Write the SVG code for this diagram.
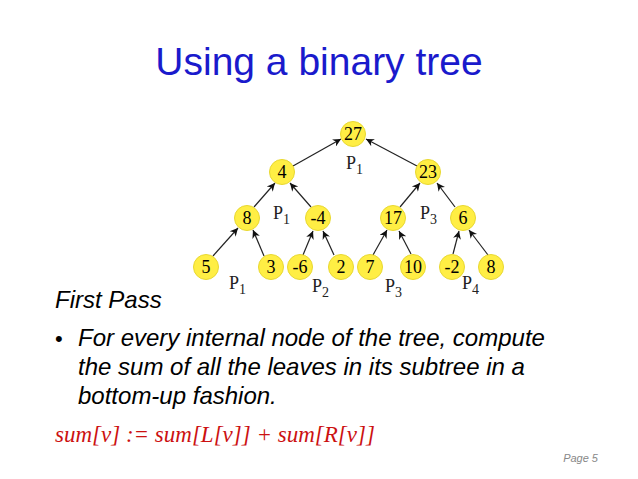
<svg xmlns="http://www.w3.org/2000/svg" width="638" height="479" viewBox="0 0 638 479">
<style>
.n circle{fill:#ffee44;stroke:#e8d830;stroke-width:1}
.n text{font-family:"Liberation Serif",serif;font-size:18px;text-anchor:middle;fill:#000}
.p{font-family:"Liberation Serif",serif;font-size:18px;fill:#222}
.p tspan{font-size:14px}
.e line{stroke:#222;stroke-width:1.2;marker-end:url(#a)}
.b{font-family:"Liberation Sans",sans-serif;font-style:italic;font-size:24px;fill:#000}
</style>
<defs><marker id="a" viewBox="0 0 10 10" refX="10" refY="5" markerWidth="12" markerHeight="8" orient="auto" markerUnits="userSpaceOnUse"><path d="M0,0L10,5L0,10L3,5z" fill="#111"/></marker></defs>
<rect width="638" height="479" fill="#fff"/>
<text x="319" y="75" font-family="Liberation Sans,sans-serif" font-size="39" fill="#1a1acc" text-anchor="middle">Using a binary tree</text>
<g class="e">
<line x1="293" y1="166" x2="341" y2="139"/>
<line x1="417" y1="166" x2="366" y2="139"/>
<line x1="254" y1="207" x2="275" y2="183"/>
<line x1="311" y1="207" x2="290" y2="183"/>
<line x1="400" y1="207" x2="420" y2="183"/>
<line x1="455" y1="207" x2="437" y2="183"/>
<line x1="213" y1="256" x2="238" y2="228"/>
<line x1="264" y1="256" x2="253" y2="230"/>
<line x1="303" y1="255" x2="313" y2="231"/>
<line x1="334" y1="255" x2="323" y2="231"/>
<line x1="373" y1="255" x2="387" y2="230"/>
<line x1="411" y1="254" x2="399" y2="231"/>
<line x1="453" y1="254" x2="459" y2="231"/>
<line x1="488" y1="255" x2="469" y2="230"/>
</g>
<g id="n27" class="n"><circle cx="353" cy="134" r="12.5"/><text x="353" y="140">27</text></g>
<g id="n4" class="n"><circle cx="282" cy="172" r="12.5"/><text x="282" y="178">4</text></g>
<g id="n23" class="n"><circle cx="428" cy="172" r="12.5"/><text x="428" y="178">23</text></g>
<g id="n8a" class="n"><circle cx="247" cy="218" r="12.5"/><text x="247" y="224">8</text></g>
<g id="nm4" class="n"><circle cx="318" cy="218" r="12.5"/><text x="318" y="224">-4</text></g>
<g id="n17" class="n"><circle cx="393" cy="218" r="12.5"/><text x="393" y="224">17</text></g>
<g id="n6" class="n"><circle cx="463" cy="218" r="12.5"/><text x="463" y="224">6</text></g>
<g id="n5" class="n"><circle cx="206" cy="267" r="12.5"/><text x="206" y="273">5</text></g>
<g id="n3" class="n"><circle cx="271" cy="267" r="12.5"/><text x="271" y="273">3</text></g>
<g id="nm6" class="n"><circle cx="300" cy="267" r="12.5"/><text x="300" y="273">-6</text></g>
<g id="n2" class="n"><circle cx="341" cy="267" r="12.5"/><text x="341" y="273">2</text></g>
<g id="n7" class="n"><circle cx="370" cy="267" r="12.5"/><text x="370" y="273">7</text></g>
<g id="n10" class="n"><circle cx="413" cy="267" r="12.5"/><text x="413" y="273">10</text></g>
<g id="nm2" class="n"><circle cx="452" cy="267" r="12.5"/><text x="452" y="273">-2</text></g>
<g id="n8b" class="n"><circle cx="491" cy="267" r="12.5"/><text x="491" y="273">8</text></g>
<text class="p" x="346" y="169">P<tspan dy="5">1</tspan></text>
<text class="p" x="273" y="219">P<tspan dy="5">1</tspan></text>
<text class="p" x="420" y="219">P<tspan dy="5">3</tspan></text>
<text class="p" x="229" y="289">P<tspan dy="5">1</tspan></text>
<text class="p" x="312" y="292">P<tspan dy="5">2</tspan></text>
<text class="p" x="385" y="292">P<tspan dy="5">3</tspan></text>
<text class="p" x="462" y="289">P<tspan dy="5">4</tspan></text>
<text class="b" x="55" y="308">First Pass</text>
<text font-family="Liberation Sans,sans-serif" font-size="22" x="55" y="346">•</text>
<text class="b" x="78" y="346">For every internal node of the tree, compute</text>
<text class="b" x="78" y="375">the sum of all the leaves in its subtree in a</text>
<text class="b" x="78" y="404">bottom-up fashion.</text>
<text x="55" y="442" font-family="Liberation Serif,serif" font-style="italic" font-size="23" fill="#cc1111">sum[v] := sum[L[v]] + sum[R[v]]</text>
<text x="598" y="462" font-family="Liberation Sans,sans-serif" font-style="italic" font-size="11" fill="#888" text-anchor="end">Page 5</text>
</svg>
